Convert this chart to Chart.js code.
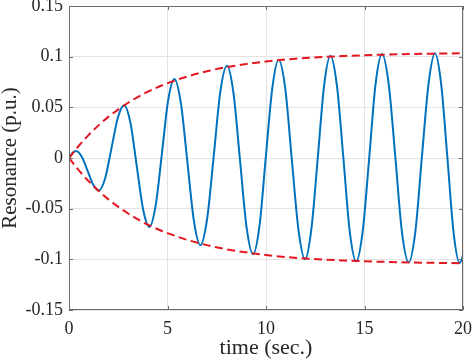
<!DOCTYPE html>
<html>
<head>
<meta charset="utf-8">
<script src="https://cdn.jsdelivr.net/npm/chart.js@4.4.1/dist/chart.umd.min.js"></script>
<style>
  html, body { margin: 0; padding: 0; background: #fff; }
  #wrap { width: 474px; height: 361px; }
</style>
</head>
<body>
<div id="wrap"><canvas id="c"></canvas></div>
<script>
// ---- data ----
const blueT = [0, 0.18, 0.36, 0.65, 0.94, 1.23, 1.52, 1.84, 2.16, 2.48, 2.80,
  3.12, 3.44, 3.76, 4.08, 4.40, 4.72, 5.03, 5.35, 5.68, 6.01, 6.34, 6.67,
  7.01, 7.35, 7.68, 8.02, 8.35, 8.68, 9.01, 9.34, 9.67, 9.99, 10.32, 10.64,
  10.98, 11.31, 11.65, 11.98, 12.30, 12.63, 12.95, 13.27, 13.60, 13.93, 14.25, 14.58,
  14.91, 15.24, 15.56, 15.89, 16.23, 16.57, 16.90, 17.24, 17.58, 17.91, 18.25, 18.58,
  18.89, 19.21, 19.52, 19.83, 19.92, 20];
const blueV = [0, 0.005, 0.007, 0.0013, -0.0125, -0.0263, -0.032, -0.0197, 0.010, 0.0397, 0.052,
  0.0345, -0.008, -0.0505, -0.068, -0.0467, 0.005, 0.0567, 0.078, 0.0541, -0.004, -0.062, -0.086,
  -0.0602, 0.0025, 0.0652, 0.091, 0.0638, -0.002, -0.0678, -0.095, -0.067, 0.001, 0.069, 0.097,
  0.0682, -0.0015, -0.0712, -0.100, -0.0707, 0.0005, 0.0717, 0.101, 0.0714, -0.0005, -0.0724, -0.102,
  -0.0721, 0.0003, 0.0727, 0.1026, 0.0726, -0.0002, -0.073, -0.103, -0.0729, 0.0001, 0.0732, 0.1033,
  0.0731, -0.0001, -0.0733, -0.1035, -0.101, -0.096];

const envT     = [0, 0.5, 1, 1.5, 2, 3, 4, 5, 6, 7, 8, 10, 12, 14, 16, 18, 20];
const envUpper = [0, 0.0121, 0.0228, 0.0322, 0.0406, 0.0545, 0.0654, 0.0738, 0.0804, 0.0856,
  0.0897, 0.0952, 0.0987, 0.1007, 0.1020, 0.1028, 0.1033];
const envLower = [0, -0.0122, -0.0229, -0.0324, -0.0408, -0.0548, -0.0658, -0.0741, -0.0808, -0.0860,
  -0.0901, -0.0957, -0.0992, -0.1012, -0.1025, -0.1033, -0.1038];

const xTicks = [0, 5, 10, 15, 20];
const xTickLabels = ['0', '5', '10', '15', '20'];
const yTicks = [-0.15, -0.1, -0.05, 0, 0.05, 0.1, 0.15];
const yTickLabels = ['-0.15', '-0.1', '-0.05', '0', '0.05', '0.1', '0.15'];

const xTitle = 'time (sec.)';
const yTitle = 'Resonance (p.u.)';

// ---- helpers ----
const toPts = (xs, ys) => xs.map((x, i) => ({ x: x, y: ys[i] }));

const FONT = "'Liberation Serif', 'Times New Roman', serif";
const AXIS_COLOR = '#6b6b6b';
const TEXT_COLOR = '#262626';

// box around the axes + inward tick marks (matlab style)
const boxPlugin = {
  id: 'box',
  afterDatasetsDraw(chart) {
    const { ctx, chartArea: a, scales } = chart;
    ctx.save();
    ctx.strokeStyle = AXIS_COLOR;
    ctx.lineWidth = 1;
    ctx.strokeRect(a.left + 0.5, a.top + 0.5, a.right - a.left - 1, a.bottom - a.top - 1);
    const len = 4;
    ctx.beginPath();
    xTicks.forEach(v => {
      const px = Math.round(scales.x.getPixelForValue(v)) + 0.5;
      ctx.moveTo(px, a.bottom); ctx.lineTo(px, a.bottom - len);
      ctx.moveTo(px, a.top);    ctx.lineTo(px, a.top + len);
    });
    yTicks.forEach(v => {
      const py = Math.round(scales.y.getPixelForValue(v)) + 0.5;
      ctx.moveTo(a.left, py);  ctx.lineTo(a.left + len, py);
      ctx.moveTo(a.right, py); ctx.lineTo(a.right - len, py);
    });
    ctx.stroke();
    ctx.restore();
  }
};

const redLine = {
  borderColor: '#e4161f',
  borderWidth: 2,
  borderDash: [8, 4.5],
  pointRadius: 0,
  cubicInterpolationMode: 'monotone',
  order: 0
};

new Chart(document.getElementById('c'), {
  type: 'line',
  data: {
    datasets: [
      Object.assign({ label: 'upper', data: toPts(envT, envUpper) }, redLine),
      Object.assign({ label: 'lower', data: toPts(envT, envLower) }, redLine),
      {
        label: 'resonance',
        data: toPts(blueT, blueV),
        borderColor: '#0072bd',
        borderWidth: 2,
        pointRadius: 0,
        cubicInterpolationMode: 'monotone',
        order: 1
      }
    ]
  },
  options: {
    responsive: true,
    maintainAspectRatio: false,
    animation: false,
    events: [],
    layout: { padding: { left: 0, top: 6, right: 11, bottom: 0 } },
    plugins: { legend: { display: false }, tooltip: { enabled: false } },
    scales: {
      x: {
        type: 'linear',
        min: 0, max: 20,
        afterBuildTicks: s => { s.ticks = xTicks.map(v => ({ value: v })); },
        afterFit: s => { s.height = 51; s.paddingLeft = 0; s.paddingRight = 0; },
        ticks: {
          padding: 8,
          color: TEXT_COLOR,
          font: { family: FONT, size: 18 },
          maxRotation: 0,
          callback: (v, i) => xTickLabels[i]
        },
        grid: { color: '#e3e3e3', drawTicks: false },
        border: { display: false },
        title: {
          display: true,
          text: xTitle,
          color: TEXT_COLOR,
          font: { family: FONT, size: 22 },
          padding: { top: 0, bottom: 0 }
        }
      },
      y: {
        type: 'linear',
        min: -0.15, max: 0.15,
        afterBuildTicks: s => { s.ticks = yTicks.map(v => ({ value: v })); },
        afterFit: s => { s.width = 69; s.paddingTop = 0; s.paddingBottom = 0; },
        ticks: {
          padding: 6,
          color: TEXT_COLOR,
          font: { family: FONT, size: 18 },
          callback: (v, i) => yTickLabels[i]
        },
        grid: { color: '#e3e3e3', drawTicks: false },
        border: { display: false },
        title: {
          display: true,
          text: yTitle,
          color: TEXT_COLOR,
          font: { family: FONT, size: 21 },
          padding: { top: -2, bottom: 0 }
        }
      }
    }
  },
  plugins: [boxPlugin]
});
</script>
</body>
</html>
